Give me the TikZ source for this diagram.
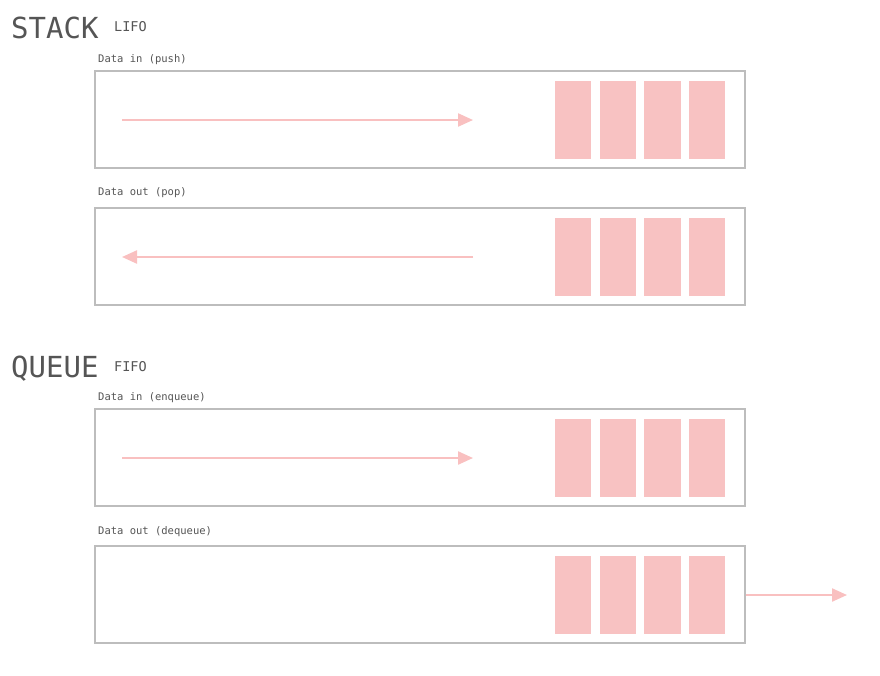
\documentclass[tikz,border=0pt]{standalone}
\usepackage{fontspec}
\setmonofont{DejaVu Sans Mono}
\usetikzlibrary{arrows.meta}
\definecolor{pinkfill}{HTML}{F8C2C2}
\definecolor{pinkline}{HTML}{F9C0C0}
\definecolor{boxgray}{HTML}{BDBDBD}
\definecolor{textgray}{HTML}{555555}
\begin{document}
\begin{tikzpicture}[x=1pt,y=-1pt,
  frame/.style={draw=boxgray,line width=1.1pt},
  block/.style={fill=pinkfill},
  flow/.style={draw=pinkline,line width=2.2pt,-{Triangle[length=15pt,width=13pt]}},
  title/.style={anchor=base west,inner sep=0pt,text=textgray,font=\fontsize{29}{30}\selectfont\ttfamily},
  subtitle/.style={anchor=base west,inner sep=0pt,text=textgray,font=\fontsize{13.5}{14}\selectfont\ttfamily},
  caption/.style={anchor=base west,inner sep=0pt,text=textgray,font=\fontsize{10.5}{11}\selectfont\ttfamily}]
\useasboundingbox[fill=white] (0,0) rectangle (880,675);
% titles
\node[title] (stack) at (11,38) {STACK};
\node[subtitle] (lifo) at (114,31) {LIFO};
\node[title] (queue) at (11,377) {QUEUE};
\node[subtitle] (fifo) at (114,371) {FIFO};
% captions
\node[caption] (c1) at (98,62) {Data in (push)};
\node[caption] (c2) at (98,195) {Data out (pop)};
\node[caption] (c3) at (98,400) {Data in (enqueue)};
\node[caption] (c4) at (98,534) {Data out (dequeue)};
% boxes
\foreach \n/\t/\b in {1/71/168, 2/208/305, 3/409/506, 4/546/643}{
  \draw[frame] (95,\t) rectangle (745,\b);
  \foreach \xa/\xb [count=\k] in {555/591, 600/636, 644/681, 689/725}{
    \fill[block] (\xa,\t+10) rectangle (\xb,\b-9);
  }
}
% arrow anchor points
\coordinate (a1s) at (122,120); \coordinate (a1e) at (473,120);
\coordinate (a2s) at (473,257); \coordinate (a2e) at (122,257);
\coordinate (a3s) at (122,458); \coordinate (a3e) at (473,458);
\coordinate (a4s) at (746,595); \coordinate (a4e) at (847,595);
\draw[flow] (a1s) -- (a1e);
\draw[flow] (a2s) -- (a2e);
\draw[flow] (a3s) -- (a3e);
\draw[flow] (a4s) -- (a4e);
\end{tikzpicture}
\end{document}
